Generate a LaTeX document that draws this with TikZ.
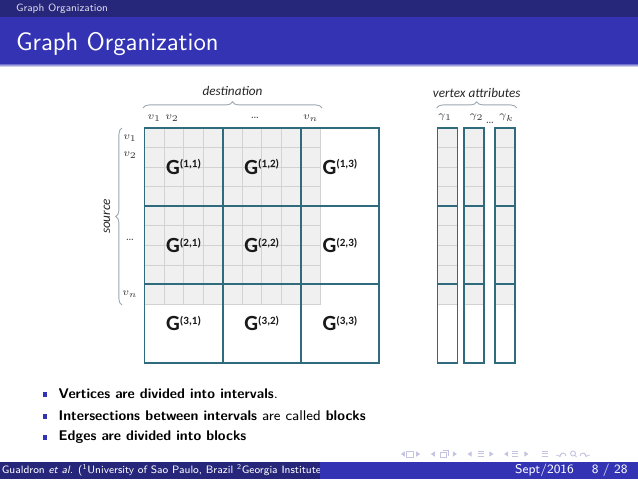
\documentclass[tikz,border=0pt]{standalone}
\usepackage{fontspec}
\usepackage{amsmath}
\newfontfamily\carlito{Carlito}
\usetikzlibrary{decorations.pathreplacing}

\definecolor{headdark}{HTML}{26267A}
\definecolor{beamerblue}{HTML}{3333B3}
\definecolor{blockline}{HTML}{2F6A7D}
\definecolor{cellfill}{HTML}{F0F0F0}
\definecolor{cellline}{HTML}{D2D2D2}
\definecolor{bracegray}{HTML}{9BA6AF}
\definecolor{navgray}{HTML}{C4C4E2}
\definecolor{headtext}{HTML}{DCDCEE}

\newcommand\blocklabel[2]{{\fontsize{12.3}{13}\selectfont G}\raisebox{3.8pt}{\fontsize{6.3}{7}\selectfont(#1,#2)}}

\begin{document}
\begin{tikzpicture}[x=0.5687pt, y=-0.5687pt, font=\sffamily,
    blockbox/.style={draw=blockline, line width=1.1pt, minimum size=44.47pt, inner sep=0pt,
                     font=\carlito\bfseries, text=black!90},
    cellgrid/.style={draw=cellline, line width=0.4pt},
    attrbox/.style={draw=blockline, line width=1.1pt},
    curly/.style={draw=bracegray, line width=0.5pt, decorate, decoration={brace, amplitude=3.5pt}},
    lbl/.style={font=\carlito\itshape\fontsize{7.5}{8}\selectfont, text=black!85},
    idx/.style={font=\fontsize{6.5}{7}\selectfont, text=black!80, inner sep=1pt},
    itembullet/.style={fill=beamerblue, minimum size=2.8pt, inner sep=0pt},
    itemtext/.style={anchor=west, inner sep=0pt, font=\sffamily\fontsize{8}{10}\selectfont},
    navsym/.style={draw=navgray, fill=navgray, line width=0.4pt}]

    \useasboundingbox (0,0) rectangle (638,479);

    % Headline and frame title
    \fill[headdark] (0,0) rectangle (638,17);
    \node[anchor=west, text=headtext, font=\sffamily\fontsize{6}{7}\selectfont, inner sep=0pt] (head) at (15.7,8.5) {Graph Organization};
    \fill[beamerblue] (0,17) rectangle (638,64);
    \shade[top color=beamerblue!70, bottom color=white] (0,64) rectangle (638,67);
    \node[anchor=west, text=white, font=\sffamily\Large, inner sep=0pt] (title) at (15.7,44) {Graph Organization};

    % Grey cells of the adjacency matrix
    \fill[cellfill] (144.5,128) rectangle (320.45,303.95);
    \foreach \i in {1,...,8} {
        \draw[cellgrid] ({144.5+\i*19.55},128) -- ({144.5+\i*19.55},303.95);
        \draw[cellgrid] (144.5,{128+\i*19.55}) -- (320.45,{128+\i*19.55});
    }
    \draw[cellgrid] (320.45,128) -- (320.45,303.95) -- (144.5,303.95);

    % Blocks G(r,c)
    \foreach \r in {1,2,3} {
        \foreach \c in {1,2,3} {
            \node[blockbox] (g\r\c) at ({144.5+(\c-0.5)*78.2},{128+(\r-0.5)*78.2}) {\blocklabel{\r}{\c}};
        }
    }

    % Destination labels and brace
    \node[idx] (dv1) at (154.3,118) {$v_1$};
    \node[idx] (dv2) at (172,118) {$v_2$};
    \node[idx] (ddots) at (255,118) {\ldots};
    \node[idx] (dvn) at (310.7,118) {$v_n$};
    \coordinate (dl) at (143,108);
    \coordinate (dr) at (322,108);
    \draw[curly] (dl) -- (dr);
    \node[lbl] (dest) at (232.5,91) {destination};

    % Source labels and brace
    \node[idx] (sv1) at (130,137.8) {$v_1$};
    \node[idx] (sv2) at (130,155) {$v_2$};
    \node[idx] (sdots) at (130,240) {\ldots};
    \node[idx] (svn) at (130,294.2) {$v_n$};
    \coordinate (sb) at (122,305);
    \coordinate (st) at (122,128);
    \draw[curly] (sb) -- (st);
    \node[lbl, rotate=90] (src) at (107,216.5) {source};

    % Vertex attribute columns
    \foreach \x in {437.5,464,495} {
        \fill[cellfill] (\x,128) rectangle (\x+20,303.95);
        \foreach \i in {1,...,9} {
            \draw[cellgrid] (\x,{128+\i*19.55}) -- (\x+20,{128+\i*19.55});
        }
        \foreach \r in {0,1,2} {
            \draw[attrbox] (\x,{128+\r*78.2}) rectangle (\x+20,{128+(\r+1)*78.2});
        }
    }
    \node[idx] (a1) at (445,117.7) {$\gamma_1$};
    \node[idx] (a2) at (476.5,117.7) {$\gamma_2$};
    \node[idx] (adots) at (490,123) {\ldots};
    \node[idx] (ak) at (506.5,117.7) {$\gamma_k$};
    \coordinate (al) at (436.7,108);
    \coordinate (ar) at (516.7,108);
    \draw[curly] (al) -- (ar);
    \node[lbl] (attr) at (476.7,93) {vertex attributes};

    % Itemize
    \node[itembullet] (i1) at (45,394.5) {};
    \node[itemtext] (t1) at (58.3,394) {\textbf{Vertices are divided into intervals}.};
    \node[itembullet] (i2) at (45,416.2) {};
    \node[itemtext] (t2) at (58.3,415.7) {\textbf{Intersections between intervals} are called \textbf{blocks}};
    \node[itembullet] (i3) at (45,437.2) {};
    \node[itemtext] (t3) at (58.3,436.7) {\textbf{Edges are divided into blocks}};

    % Navigation symbols
    \foreach \x in {403,433,469.7,506.3} {
        \fill[navsym] (\x-1.5,454) -- (\x+1.5,452) -- (\x+1.5,456) -- cycle;
    }
    \foreach \x in {418,454.7,491.3,526.3} {
        \fill[navsym] (\x+1.5,454) -- (\x-1.5,452) -- (\x-1.5,456) -- cycle;
    }
    \draw[navgray, line width=0.5pt] (406.2,451) rectangle (413.2,457);
    \draw[navgray, line width=0.5pt] (440.5,452.5) rectangle (446.5,457.5);
    \draw[navgray, line width=0.5pt] (442.5,450.5) -- (448.5,450.5) -- (448.5,455.5);
    \foreach \x in {481.3,514.7,544.7} {
        \foreach \y in {451,453.5,456} {
            \draw[navgray, line width=0.5pt] (\x-3,\y) -- (\x+3,\y);
        }
    }
    \draw[navgray, line width=0.5pt, ->] (566,456) arc (0:-200:3);
    \draw[navgray, line width=0.5pt] (573,453.5) circle (2.5);
    \draw[navgray, line width=0.5pt] (574.8,455.3) -- (576.5,457);
    \draw[navgray, line width=0.5pt, ->] (580,456) arc (180:380:3);

    % Footline
    \fill[headdark] (0,462) rectangle (320,479);
    \fill[beamerblue] (320,462) rectangle (638,479);
    \begin{scope}
        \clip (0,462) rectangle (319,479);
        \node[anchor=west, text=white, font=\sffamily\fontsize{6.1}{7}\selectfont, inner sep=0pt] (auth) at (1.5,470.5)
            {Gualdron \emph{et al.} (\textsuperscript{1}University of Sao Paulo, Brazil \textsuperscript{2}Georgia Institute of Technology, USA)};
    \end{scope}
    \node[anchor=west, text=white, font=\sffamily\fontsize{7.2}{8}\selectfont, inner sep=0pt] (date) at (514.7,470.5) {Sept/2016};
    \node[anchor=east, text=white, font=\sffamily\fontsize{7.2}{8}\selectfont, inner sep=0pt] (page) at (628,470.5) {8 / 28};

\end{tikzpicture}
\end{document}
